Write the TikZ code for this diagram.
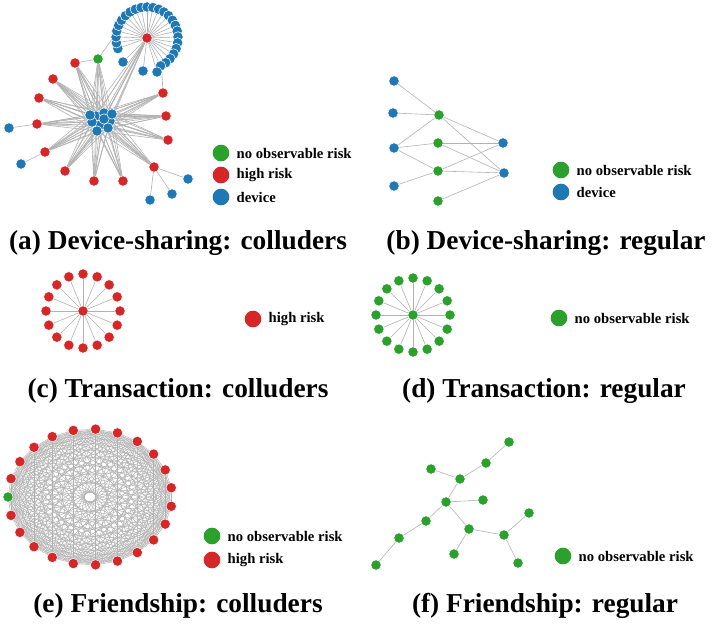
\documentclass[tikz,border=0pt]{standalone}
\usepackage{fontspec}
\setmainfont{Liberation Serif}
\usetikzlibrary{calc}
\definecolor{cgreen}{RGB}{44,160,44}
\definecolor{cred}{RGB}{214,39,40}
\definecolor{cblue}{RGB}{31,119,180}
\tikzset{
  dot/.style={circle, draw=white, line width=0.4pt, inner sep=0pt, minimum size=7.8pt},
  dev/.style={dot, fill=cblue},
  risk/.style={dot, fill=cred},
  norisk/.style={dot, fill=cgreen},
  big/.style={minimum size=12.5pt, draw=none},
  edge/.style={draw=gray!60, line width=0.45pt},
  legtext/.style={anchor=west, font=\bfseries\fontsize{11}{13}\selectfont},
  caption/.style={font=\bfseries\fontsize{20.5}{24}\selectfont}
}
\begin{document}
\begin{tikzpicture}[x=0.75pt, y=-0.75pt]
    \useasboundingbox (0,0) rectangle (725,624);

    % (a) device-sharing, colluders
    \coordinate (RC) at (147,38);
    \foreach \a in {160,171,...,424}
      \draw[edge] (RC) -- ($(RC)+(\a:31)$);
    \foreach \x/\y in {143/71,157/72,123/62}
      \draw[edge] (RC) -- (\x,\y);
    \foreach \i/\x/\y in {1/96/116,2/104/113,3/110/121,4/100/125,5/92/122,6/108/128,7/97/131,8/104/119,9/112/114,10/90/115}
      \coordinate (H\i) at (\x,\y);
    \foreach \x/\y in {75/63,53/79,39/98,37/124,45/152,65/171,94/181,123/181,154/167,168/140,166/116,163/93,98/59,147/38}
      \foreach \i in {1,...,10}
        \draw[edge] (\x,\y) -- (H\i);
    \draw[edge] (75,63) -- (98,59) -- ($(RC)+(190:31)$);
    \draw[edge] (163,93) -- ($(RC)+(62:31)$);
    \draw[edge] (37,124) -- (9,128);
    \draw[edge] (45,152) -- (21,164);
    \foreach \x/\y in {188/179,172/194,150/200}
      \draw[edge] (154,167) -- (\x,\y);
    \foreach \a in {160,171,...,424}
      \node[dev] at ($(RC)+(\a:31)$) {};
    \foreach \x/\y in {143/71,157/72,123/62,9/128,21/164,188/179,172/194,150/200}
      \node[dev] at (\x,\y) {};
    \foreach \i in {1,...,10}
      \node[dev] at (H\i) {};
    \foreach \x/\y in {75/63,53/79,39/98,37/124,45/152,65/171,94/181,123/181,154/167,168/140,166/116,163/93}
      \node[risk] at (\x,\y) {};
    \node[risk] (rc) at (RC) {};
    \node[norisk] (ga) at (98,59) {};
    \node[norisk, big] (la1) at (221,153) {};
    \node[risk, big] (la2) at (221,175) {};
    \node[dev, big] (la3) at (221,197) {};
    \node[legtext] at (232,153) {no observable risk};
    \node[legtext] at (232,175) {high risk};
    \node[legtext] at (232,197) {device};
    \node[caption] (capa) at (178,243) {(a) Device-sharing: colluders};

    % (b) device-sharing, regular
    \node[dev] (b1) at (394,81) {};
    \node[dev] (b2) at (393,113) {};
    \node[dev] (b3) at (394,148) {};
    \node[dev] (b4) at (394,186) {};
    \node[norisk] (g1) at (439,115) {};
    \node[norisk] (g2) at (438,143) {};
    \node[norisk] (g3) at (438,171) {};
    \node[norisk] (g4) at (438,201) {};
    \node[dev] (d1) at (503,143) {};
    \node[dev] (d2) at (504,173) {};
    \foreach \u/\v in {b1/g1,b2/g1,b3/g1,b3/g2,b3/g3,b4/g3,g1/d1,g1/d2,g2/d1,g2/d2,g3/d1,g3/d2,g4/d2}
      \draw[edge] (\u) -- (\v);
    \node[norisk, big] (lb1) at (561,170) {};
    \node[dev, big] (lb2) at (561,192) {};
    \node[legtext] at (572,170) {no observable risk};
    \node[legtext] at (572,192) {device};
    \node[caption] (capb) at (546,243) {(b) Device-sharing: regular};

    % (c) transaction, colluders
    \node[risk] (cc) at (83,311) {};
    \foreach \i in {1,...,16}
      \draw[edge] (cc) -- ($(cc)+(\i*22.5:37)$) node[risk] {};
    \node[risk, big] (lc) at (253,319) {};
    \node[legtext] at (264,319) {high risk};
    \node[caption] (capc) at (178,391) {(c) Transaction: colluders};

    % (d) transaction, regular
    \node[norisk] (dc) at (413,315) {};
    \foreach \i in {1,...,16}
      \draw[edge] (dc) -- ($(dc)+(\i*22.5:37)$) node[norisk] {};
    \node[norisk, big] (ld) at (559,318) {};
    \node[legtext] at (570,318) {no observable risk};
    \node[caption] (capd) at (544,391) {(d) Transaction: regular};

    % (e) friendship, colluders
    \foreach \i in {0,...,22}
      \coordinate (e\i) at ($(90,497)+({180+\i*360/23}:82 and 68)$);
    \foreach \i in {0,...,21}{
      \pgfmathtruncatemacro{\k}{\i+1}
      \foreach \j in {\k,...,22}
        \draw[edge, line width=0.35pt] (e\i) -- (e\j);
    }
    \node[norisk] at (e0) {};
    \foreach \i in {1,...,22}
      \node[risk] at (e\i) {};
    \node[norisk, big] (le1) at (212,536) {};
    \node[risk, big] (le2) at (212,560) {};
    \node[legtext] at (223,536) {no observable risk};
    \node[legtext] at (223,560) {high risk};
    \node[caption] (cape) at (178,606) {(e) Friendship: colluders};

    % (f) friendship, regular
    \foreach \i/\x/\y in {1/509/442,2/486/463,3/431/469,4/460/479,5/446/502,6/483/500,7/426/521,8/399/538,9/376/565,10/469/529,11/454/554,12/504/535,13/529/513,14/518/563}
      \coordinate (f\i) at (\x,\y);
    \foreach \u/\v in {1/2,2/4,3/4,4/5,5/6,5/7,7/8,8/9,5/10,10/11,10/12,12/13,12/14}
      \draw[edge] (f\u) -- (f\v);
    \foreach \i in {1,...,14}
      \node[norisk] at (f\i) {};
    \node[norisk, big] (lf) at (563,556) {};
    \node[legtext] at (574,556) {no observable risk};
    \node[caption] (capf) at (545,606) {(f) Friendship: regular};
\end{tikzpicture}
\end{document}
